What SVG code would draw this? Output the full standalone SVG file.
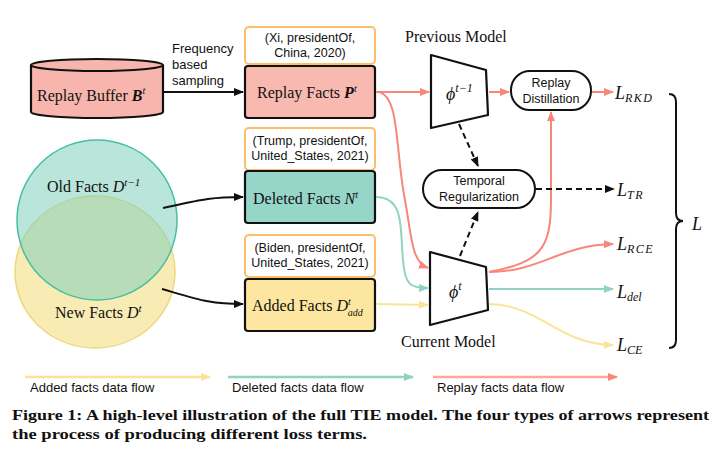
<svg xmlns="http://www.w3.org/2000/svg" width="720" height="459" viewBox="0 0 720 459">
<style>
.sans{font-family:"Liberation Sans",Arial,sans-serif;fill:#111}
.serif{font-family:"Liberation Serif","Times New Roman",serif;fill:#111}
.box{stroke:#111;stroke-width:2.2}
.ex{fill:#fff;stroke:#fbbf6a;stroke-width:2}
.pill{fill:#fff;stroke:#111;stroke-width:2}
.k{fill:none;stroke:#111;stroke-width:2}
.r{fill:none;stroke:#f7877a;stroke-width:2}
.g{fill:none;stroke:#8fd3c4;stroke-width:2}
.y{fill:none;stroke:#fbe39a;stroke-width:2}
</style>
<defs>
<marker id="ak" markerWidth="10" markerHeight="8" refX="9" refY="4" orient="auto" markerUnits="userSpaceOnUse"><path d="M0,0 L10,4 L0,8 z" fill="#111"/></marker>
<marker id="ar" markerWidth="10" markerHeight="8" refX="9" refY="4" orient="auto" markerUnits="userSpaceOnUse"><path d="M0,0 L10,4 L0,8 z" fill="#f7877a"/></marker>
<marker id="ag" markerWidth="10" markerHeight="8" refX="9" refY="4" orient="auto" markerUnits="userSpaceOnUse"><path d="M0,0 L10,4 L0,8 z" fill="#8fd3c4"/></marker>
<marker id="ay" markerWidth="10" markerHeight="8" refX="9" refY="4" orient="auto" markerUnits="userSpaceOnUse"><path d="M0,0 L10,4 L0,8 z" fill="#fbe39a"/></marker>
</defs>
<rect width="720" height="459" fill="#fff"/>

<g id="venn">
<ellipse cx="95" cy="272" rx="80" ry="76" fill="#f8eab0" stroke="#ecd77a" stroke-width="1.5" opacity="0.95"/>
<circle cx="97" cy="220" r="80" fill="#7fcfbb" fill-opacity="0.55" stroke="#46bfa3" stroke-width="1.5"/>
<text class="serif" x="47" y="192" font-size="16">Old Facts <tspan font-style="italic">D</tspan><tspan font-style="italic" font-size="11" dy="-6">t−1</tspan></text>
<text class="serif" x="55" y="318" font-size="16">New Facts <tspan font-style="italic">D</tspan><tspan font-style="italic" font-size="11" dy="-6">t</tspan></text>
</g>

<g id="buffer">
<path d="M31,65 L31,112 A66,6 0 0 0 163,112 L163,65" fill="#f8b5ad" class="box"/>
<ellipse cx="97" cy="65" rx="66" ry="6" fill="#f8b5ad" class="box"/>
<text class="serif" x="37" y="101" font-size="16">Replay Buffer <tspan font-style="italic" font-weight="bold">B</tspan><tspan font-style="italic" font-size="10" dy="-7">t</tspan></text>
</g>

<g id="replay">
<rect x="245" y="27" width="130" height="37" rx="4" class="ex"/>
<text class="sans" x="310" y="42" font-size="12.5" text-anchor="middle">(Xi, presidentOf,</text>
<text class="sans" x="310" y="57" font-size="12.5" text-anchor="middle">China, 2020)</text>
<rect x="245" y="66" width="130" height="52" rx="3" fill="#f8b9b1" class="box"/>
<text class="serif" x="257" y="98" font-size="16">Replay Facts <tspan font-style="italic" font-weight="bold">P</tspan><tspan font-style="italic" font-size="10" dy="-6">t</tspan></text>
</g>

<g id="deleted">
<rect x="245" y="128" width="130" height="42" rx="4" class="ex"/>
<text class="sans" x="310" y="145" font-size="12.5" text-anchor="middle">(Trump, presidentOf,</text>
<text class="sans" x="310" y="160" font-size="12.5" text-anchor="middle">United_States, 2021)</text>
<rect x="245" y="171" width="130" height="52" rx="3" fill="#96d6c8" class="box"/>
<text class="serif" x="253" y="204" font-size="16">Deleted Facts <tspan font-style="italic">N</tspan><tspan font-style="italic" font-size="10" dy="-6">t</tspan></text>
</g>

<g id="added">
<rect x="245" y="235" width="130" height="42" rx="4" class="ex"/>
<text class="sans" x="310" y="252" font-size="12.5" text-anchor="middle">(Biden, presidentOf,</text>
<text class="sans" x="310" y="267" font-size="12.5" text-anchor="middle">United_States, 2021)</text>
<rect x="245" y="279" width="130" height="52" rx="3" fill="#fce6a0" class="box"/>
<text class="serif" x="252" y="311" font-size="16">Added Facts <tspan font-style="italic">D</tspan><tspan font-style="italic" font-size="10" dy="-6">t</tspan><tspan font-style="italic" font-size="10" dy="11" dx="-3">add</tspan></text>
</g>

<g id="prev">
<text class="serif" x="405" y="42" font-size="16">Previous Model</text>
<path d="M431,55 L486,70 L488,115 L431,128 Z" fill="#fff" class="box" stroke-linejoin="round"/>
<text class="serif" x="446" y="100" font-size="18" font-style="italic">ϕ<tspan font-size="12" dy="-8">t−1</tspan></text>
</g>

<g id="curr">
<path d="M430,252 L486,267 L488,310 L430,325 Z" fill="#fff" class="box" stroke-linejoin="round"/>
<text class="serif" x="449" y="298" font-size="18" font-style="italic">ϕ<tspan font-size="12" dy="-8">t</tspan></text>
<text class="serif" x="401" y="347" font-size="16">Current Model</text>
</g>

<g id="distill">
<rect x="511" y="71" width="80" height="39" rx="19" class="pill"/>
<text class="sans" x="551" y="87" font-size="12.5" text-anchor="middle">Replay</text>
<text class="sans" x="551" y="103" font-size="12.5" text-anchor="middle">Distillation</text>
</g>

<g id="temporal">
<rect x="423" y="170" width="112" height="38" rx="19" class="pill"/>
<text class="sans" x="479" y="185" font-size="12.5" text-anchor="middle">Temporal</text>
<text class="sans" x="479" y="201" font-size="12.5" text-anchor="middle">Regularization</text>
</g>

<g id="losses" class="serif" font-style="italic">
<text x="615" y="99" font-size="18">L<tspan font-size="12" dy="3" letter-spacing="1.5">RKD</tspan></text>
<text x="617" y="196" font-size="18">L<tspan font-size="12" dy="3" letter-spacing="1.5">TR</tspan></text>
<text x="617" y="250" font-size="18">L<tspan font-size="12" dy="3" letter-spacing="1.5">RCE</tspan></text>
<text x="617" y="298" font-size="18">L<tspan font-size="12" dy="3">del</tspan></text>
<text x="617" y="351" font-size="18">L<tspan font-size="12" dy="3">CE</tspan></text>
<text x="692" y="230" font-size="18">L</text>
<path d="M669,94 Q676,94 676,102 L676,213 Q676,221 683,221 Q676,221 676,229 L676,340 Q676,348 669,348" fill="none" stroke="#111" stroke-width="2"/>
</g>

<g id="connectors">
<text class="sans" x="172" y="53" font-size="13">Frequency</text>
<text class="sans" x="172" y="69" font-size="13">based</text>
<text class="sans" x="172" y="85" font-size="13">sampling</text>
<path d="M164,92 L243,92" class="k" marker-end="url(#ak)"/>
<path d="M163,208 C200,200 210,197 243,197" class="k" marker-end="url(#ak)"/>
<path d="M162,289 C200,300 210,304 243,304" class="k" marker-end="url(#ak)"/>

<path d="M376,92 L429,92" class="r" marker-end="url(#ar)"/>
<path d="M378,92 C400,95 395,150 405,200 C412,240 412,262 428,268" class="r" marker-end="url(#ar)"/>
<path d="M489,92 L509,92" class="r" marker-end="url(#ar)"/>
<path d="M592,92 L613,92" class="r" marker-end="url(#ar)"/>
<path d="M489,272 C540,262 551,250 551,200 L551,112" class="r" marker-end="url(#ar)"/>
<path d="M489,272 C540,272 560,245 613,244" class="r" marker-end="url(#ar)"/>

<path d="M376,197 C405,197 400,230 403,260 C405,285 410,288 428,288" class="g" marker-end="url(#ag)"/>
<path d="M489,289 L613,289" class="g" marker-end="url(#ag)"/>

<path d="M376,304 L428,305" class="y" marker-end="url(#ay)"/>
<path d="M489,304 C540,305 560,345 613,345" class="y" marker-end="url(#ay)"/>

<path d="M459,124 L478,166" class="k" stroke-dasharray="6,4" marker-end="url(#ak)"/>
<path d="M460,256 L478,212" class="k" stroke-dasharray="6,4" marker-end="url(#ak)"/>
<path d="M536,189 L614,189" class="k" stroke-dasharray="6,4" marker-end="url(#ak)"/>
</g>

<g id="legend">
<path d="M25,377 L210,377" stroke="#fbe39a" stroke-width="2.5" fill="none" marker-end="url(#ay)"/>
<path d="M228,377 L413,377" stroke="#8fd3c4" stroke-width="2.5" fill="none" marker-end="url(#ag)"/>
<path d="M433,377 L617,377" stroke="#f9a89e" stroke-width="2.5" fill="none" marker-end="url(#ar)"/>
<text class="sans" x="30" y="392" font-size="13">Added facts data flow</text>
<text class="sans" x="232" y="392" font-size="13">Deleted facts data flow</text>
<text class="sans" x="437" y="392" font-size="13">Replay facts data flow</text>
</g>

<g id="caption" class="serif" font-weight="bold" font-size="15">
<text x="12" y="420" textLength="697" lengthAdjust="spacingAndGlyphs">Figure 1: A high-level illustration of the full TIE model. The four types of arrows represent</text>
<text x="12" y="439" textLength="355" lengthAdjust="spacingAndGlyphs">the process of producing different loss terms.</text>
</g>
</svg>
